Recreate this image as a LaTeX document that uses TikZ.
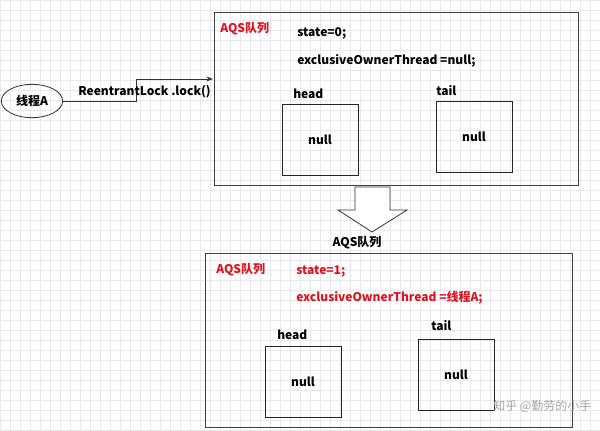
\documentclass[tikz,border=0pt]{standalone}
\usepackage{fontspec}
\setmainfont{Noto Sans CJK SC}
\usetikzlibrary{shapes.geometric,arrows.meta}
\definecolor{gridgray}{RGB}{232,232,236}
\definecolor{aqsred}{RGB}{220,20,30}
\tikzset{
  box/.style={draw=black!75,line width=0.6pt},
  slot/.style={draw=black!85,line width=0.6pt,minimum width=57pt,minimum height=53pt,font=\bfseries\small},
  lbl/.style={font=\bfseries\small,anchor=west,inner sep=0pt},
  red lbl/.style={lbl,text=aqsred},
}
\begin{document}
\begin{tikzpicture}[x=0.75pt,y=-0.75pt]
  \useasboundingbox (0,0) rectangle (600,430);
  \fill[white] (0,0) rectangle (600,430);
  \foreach \i in {0,10,...,600} \draw[gridgray,line width=0.3pt] (\i,0) -- (\i,430);
  \foreach \j in {0,10,...,430} \draw[gridgray,line width=0.3pt] (0,\j) -- (600,\j);

  % thread A
  \node[ellipse,draw=black!80,line width=0.6pt,minimum width=46pt,minimum height=25pt,font=\bfseries\small] (thA) at (32,101) {线程A};
  \coordinate (bendA) at (136,101);
  \coordinate (bendB) at (136,79);
  \coordinate (q1in) at (213,79);
  \draw[black!80,line width=0.6pt,-{Stealth[length=5pt]}] (thA.east) -- (bendA) -- (bendB) -- (q1in);
  \node[lbl] (lockcall) at (78,92) {ReentrantLock .lock()};

  % first queue
  \draw[box] (214,12) rectangle (578,185);
  \node[red lbl] (q1) at (220,29) {AQS队列};
  \node[lbl] (st1) at (297,33) {state=0;};
  \node[lbl] (own1) at (297,61) {exclusiveOwnerThread =null;};
  \node[lbl] (headl1) at (293,94) {head};
  \node[slot] (head1) at (320,140) {null};
  \node[lbl] (taill1) at (436,91) {tail};
  \node[slot] (tail1) at (474,137) {null};

  % transition arrow
  \draw[black!80,line width=0.6pt,fill=white] (355,187) -- (390,187) -- (390,210) -- (407,210) -- (372,232) -- (338,210) -- (355,210) -- cycle;
  \node[font=\bfseries\small] (mid) at (357,243) {AQS队列};

  % second queue
  \draw[box] (205,253) rectangle (572,427);
  \node[red lbl] (q2) at (216,270) {AQS队列};
  \node[red lbl] (st2) at (296,271) {state=1;};
  \node[red lbl] (own2) at (296,298) {exclusiveOwnerThread =线程A;};
  \node[lbl] (headl2) at (277,335) {head};
  \node[slot] (head2) at (303,382) {null};
  \node[lbl] (taill2) at (431,326) {tail};
  \node[slot] (tail2) at (456,375) {null};

  \node[font=\small,text=black!35,anchor=east] (mark) at (596,406) {知乎 @勤劳的小手};
\end{tikzpicture}
\end{document}
